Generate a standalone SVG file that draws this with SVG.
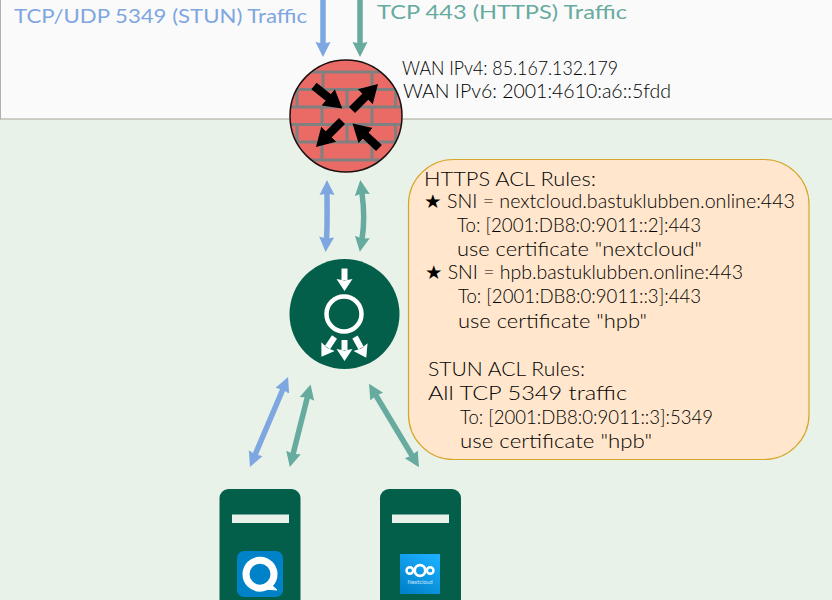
<svg xmlns="http://www.w3.org/2000/svg" width="832" height="600" viewBox="0 0 832 600">
<style>
text{font-family:"Lato","Liberation Sans",sans-serif;font-size:19px;font-weight:300;fill:#000}
.bl{fill:#7ea6e0;font-weight:400}
.gr{fill:#67ab9f;font-weight:400}
.ab{fill:none;stroke:#7ea6e0;stroke-width:5.500;marker-end:url(#hb)}
.ag{fill:none;stroke:#67ab9f;stroke-width:5.500;marker-end:url(#hg)}
.db{marker-start:url(#hb)}
.dg{marker-start:url(#hg)}
.brick{stroke:#808080;stroke-width:3;fill:none}
.fa{stroke:#000;stroke-width:8.500;marker-end:url(#hk);fill:none}
.wa{stroke:#fff;stroke-width:6;marker-end:url(#hw);fill:none}
.srv{fill:#045f4a}
.bar{fill:#e9f2e8}
</style>
<defs>
<marker id="hb" markerUnits="userSpaceOnUse" markerWidth="18" markerHeight="18" refX="2" refY="9" orient="auto-start-reverse" viewBox="0 0 18 18"><path d="M0 1.500L15 9L0 16.500L1.500 9Z" fill="#7ea6e0"/></marker>
<marker id="hg" markerUnits="userSpaceOnUse" markerWidth="18" markerHeight="18" refX="2" refY="9" orient="auto-start-reverse" viewBox="0 0 18 18"><path d="M0 1.500L15 9L0 16.500L1.500 9Z" fill="#67ab9f"/></marker>
<marker id="hk" markerUnits="userSpaceOnUse" markerWidth="28" markerHeight="28" refX="1" refY="14" orient="auto" viewBox="0 0 28 28"><path d="M0 3.500L18 14L0 24.500Z" fill="#000"/></marker>
<marker id="hw" markerUnits="userSpaceOnUse" markerWidth="20" markerHeight="20" refX="1" refY="10" orient="auto" viewBox="0 0 20 20"><path d="M0 2L12 10L0 18L1.500 10Z" fill="#fff"/></marker>
<clipPath id="fwc"><circle cx="346" cy="116" r="56"/></clipPath>
<linearGradient id="ncg" x1="0.800" y1="0" x2="0.200" y2="1"><stop offset="0" stop-color="#1cafff"/><stop offset="1" stop-color="#0082c9"/></linearGradient>
</defs>

<rect id="wan-zone" x="0" y="0" width="832" height="119" fill="#fafafa"/>
<rect id="lan-zone" x="0" y="119" width="832" height="481" fill="#e9f2e9"/>
<path d="M0 119H832" stroke="#a3a896" stroke-width="1" fill="none"/>
<path d="M0.500 0V119" stroke="#b0b0b0" stroke-width="1" fill="none"/>

<g id="connectors">
<path class="ab" d="M323 -2V44"/>
<path class="ag" d="M360 -2V44"/>
<path class="ab db" d="M327 193C327 205 327.500 225 326.500 239"/>
<path class="ag dg" d="M362 193C364 208 364.500 224 362 239"/>
<path class="ab db" d="M283 389L255 455"/>
<path class="ag dg" d="M307.400 397L293 454.400"/>
<path class="ag dg" d="M375.700 395L412.300 456"/>
</g>

<g id="firewall">
<circle cx="346" cy="116" r="56" fill="#ea6b66"/>
<g clip-path="url(#fwc)">
<path class="brick" d="M285 72H405M285 89.500H405M285 107H405M285 124.500H405M285 142H405M285 160H405"/>
<path class="brick" d="M323 72V89.500M372 72V89.500M297 89.500V107M347 89.500V107M395.500 89.500V107M322 107V124.500M372 107V124.500M297 124.500V142M347 124.500V142M395.500 124.500V142M322 142V160M372 142V160"/>
</g>
<circle cx="346" cy="116" r="56" fill="none" stroke="#1c0f0f" stroke-width="1.500"/>
<path class="fa" d="M314 86L329 98"/>
<path class="fa" d="M352 110L366 96"/>
<path class="fa" d="M342 121L328 135"/>
<path class="fa" d="M379 148L365 135"/>
</g>

<g id="load-balancer">
<circle cx="344.500" cy="314" r="55" fill="#045f4a"/>
<circle cx="344" cy="314" r="17.500" fill="none" stroke="#fff" stroke-width="4.500"/>
<path class="wa" d="M344.500 268.500V280"/>
<path class="wa" d="M344.500 340V350"/>
<path class="wa" d="M334.500 337L327.500 347.500"/>
<path class="wa" d="M355 337L361 348"/>
</g>

<g id="server-talk">
<rect class="srv" x="219.500" y="489" width="81" height="125" rx="9"/>
<rect class="bar" x="232" y="514.500" width="57" height="8.500"/>
<rect x="237" y="551" width="46" height="46" rx="7" fill="#0082c9"/>
<circle cx="260" cy="574.200" r="14" fill="none" stroke="#fff" stroke-width="7"/>
<path d="M269 583L277 590L265 589Z" fill="#fff" stroke="#fff" stroke-width="1"/>
</g>

<g id="server-nextcloud">
<rect class="srv" x="380" y="489" width="81" height="125" rx="9"/>
<rect class="bar" x="392" y="514.500" width="57" height="8.500"/>
<rect x="400" y="554" width="40" height="40" fill="url(#ncg)"/>
<g fill="none" stroke="#fff">
<circle cx="420" cy="570.500" r="5.300" stroke-width="2.800"/>
<circle cx="409.800" cy="570.500" r="3.300" stroke-width="2.400"/>
<circle cx="430.200" cy="570.500" r="3.300" stroke-width="2.400"/>
</g>
<text x="420" y="584" text-anchor="middle" textLength="25" lengthAdjust="spacingAndGlyphs" style="font-size:5.500px;fill:#cfeaff;font-weight:400">Nextcloud</text>
</g>

<g id="labels">
<text class="bl" x="14" y="23" textLength="293" lengthAdjust="spacingAndGlyphs">TCP/UDP 5349 (STUN) Traffic</text>
<text class="gr" x="377" y="19" textLength="250" lengthAdjust="spacingAndGlyphs">TCP 443 (HTTPS) Traffic</text>
<text x="402" y="75" textLength="216" lengthAdjust="spacingAndGlyphs">WAN IPv4: 85.167.132.179</text>
<text x="403" y="98" textLength="268" lengthAdjust="spacingAndGlyphs">WAN IPv6: 2001:4610:a6::5fdd</text>
</g>

<g id="acl-rules">
<rect x="408.500" y="159.500" width="400.500" height="300" rx="45" fill="#ffe6cc" stroke="#d6a62a" stroke-width="1.200"/>
<text x="424" y="186" textLength="172" lengthAdjust="spacingAndGlyphs">HTTPS ACL Rules:</text>
<text x="424" y="208" textLength="371" lengthAdjust="spacingAndGlyphs">★ SNI = nextcloud.bastuklubben.online:443</text>
<text x="457" y="232" textLength="244" lengthAdjust="spacingAndGlyphs">To: [2001:DB8:0:9011::2]:443</text>
<text x="457" y="256" textLength="245" lengthAdjust="spacingAndGlyphs">use certificate "nextcloud"</text>
<text x="425" y="279" textLength="318" lengthAdjust="spacingAndGlyphs">★ SNI = hpb.bastuklubben.online:443</text>
<text x="458" y="303" textLength="243" lengthAdjust="spacingAndGlyphs">To: [2001:DB8:0:9011::3]:443</text>
<text x="458" y="328" textLength="189" lengthAdjust="spacingAndGlyphs">use certificate "hpb"</text>
<text x="428" y="376" textLength="157" lengthAdjust="spacingAndGlyphs">STUN ACL Rules:</text>
<text x="428" y="400" textLength="199" lengthAdjust="spacingAndGlyphs">All TCP 5349 traffic</text>
<text x="460" y="424" textLength="253" lengthAdjust="spacingAndGlyphs">To: [2001:DB8:0:9011::3]:5349</text>
<text x="460" y="448" textLength="192" lengthAdjust="spacingAndGlyphs">use certificate "hpb"</text>
</g>
</svg>
